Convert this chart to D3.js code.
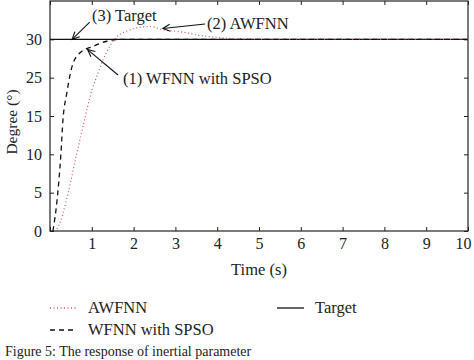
<!DOCTYPE html>
<html><head><meta charset="utf-8">
<script src="https://cdn.jsdelivr.net/npm/d3@7"></script>
<style>
body{margin:0;background:#fff;}
svg{display:block;font-family:"Liberation Serif","DejaVu Serif",serif;}
</style></head>
<body><svg id="c" width="474" height="360"></svg>
<script>
// Data
const xTicks = [0,1,2,3,4,5,6,7,8,9,10];
const yTickValues = [0,6,12,18,24,30];
const yTickLabels = ["0","5","10","15","25","30"];
const awfnnT = [0.1,0.16,0.44,0.64,0.84,1.0,1.12,1.27,1.43,1.6,1.84,2.15,2.4,2.7,3.2,3.6,4.0,4.4,5.2,10];
const awfnnY = [0,0.3,6.1,12.1,17.8,22,24.2,26.8,28.9,30.4,31.3,31.9,32.0,31.5,31.1,30.6,30.3,30.1,30.0,30.0];
const spsoT = [0.07,0.17,0.26,0.31,0.4,0.53,0.72,1.03,1.36,1.67,10];
const spsoY = [0,4.9,12,17.4,21.5,25.8,27.9,28.9,29.7,30,30];
const targetT = [0,10];
const targetY = [30,30];
const legendNames = ["AWFNN","WFNN with SPSO","Target"];

const svg = d3.select("#c");
const x = d3.scaleLinear().domain([0,10]).range([50,468]);
const y = d3.scaleLinear().domain([0,36]).range([231,1]);

// frame
svg.append("rect").attr("x",50).attr("y",1).attr("width",418).attr("height",230)
  .attr("fill","none").attr("stroke","#222").attr("stroke-width",1.2);

const ax = d3.axisBottom(x).tickValues(xTicks).tickSize(-4).tickPadding(7).tickFormat(d=>d===0?"":d);
const gx = svg.append("g").attr("transform","translate(0,231)").call(ax);
const axT = d3.axisTop(x).tickValues(xTicks).tickSize(-4).tickFormat("");
svg.append("g").attr("transform","translate(0,1)").call(axT);
const ay = d3.axisLeft(y).tickValues(yTickValues).tickSize(-4).tickPadding(8).tickFormat((d,i)=>yTickLabels[i]);
svg.append("g").attr("transform","translate(50,0)").call(ay);
const ayR = d3.axisRight(y).tickValues(yTickValues).tickSize(-4).tickFormat("");
svg.append("g").attr("transform","translate(468,0)").call(ayR);
svg.selectAll(".domain").remove();
svg.selectAll(".tick line").attr("stroke","#222");
svg.selectAll(".tick text").attr("font-size",16).attr("fill","#222").attr("font-family","Liberation Serif, serif");
// keep the last x label inside the picture
gx.selectAll(".tick text").filter(d=>d===10).attr("dx",-5);

// axis labels
svg.append("text").attr("x",259).attr("y",275).attr("text-anchor","middle").attr("font-size",16.5).attr("fill","#222").text("Time (s)");
svg.append("text").attr("transform","translate(17,122) rotate(-90)").attr("text-anchor","middle").attr("font-size",15.5).attr("fill","#222").text("Degree (°)");

const line = d3.line().x(d=>x(d[0])).y(d=>y(d[1])).curve(d3.curveMonotoneX);
const zip = (a,b)=>a.map((v,i)=>[v,b[i]]);

svg.append("path").datum(zip(targetT,targetY)).attr("d",line).attr("fill","none").attr("stroke","#111").attr("stroke-width",1.3);
svg.append("path").datum(zip(awfnnT,awfnnY)).attr("d",line).attr("fill","none").attr("stroke","#e0505a").attr("stroke-width",1.2).attr("stroke-dasharray","1,2.5");
svg.append("path").datum(zip(spsoT,spsoY)).attr("d",line).attr("fill","none").attr("stroke","#111").attr("stroke-width",1.3).attr("stroke-dasharray","5,4");

// annotations
function arrow(x1,y1,x2,y2){
  svg.append("line").attr("x1",x1).attr("y1",y1).attr("x2",x2).attr("y2",y2).attr("stroke","#111").attr("stroke-width",1.1);
  const a = Math.atan2(y1-y2,x1-x2), L=8, w=0.45;
  const p = [[x2+L*Math.cos(a+w),y2+L*Math.sin(a+w)],[x2,y2],[x2+L*Math.cos(a-w),y2+L*Math.sin(a-w)]];
  svg.append("path").attr("d",d3.line()(p)).attr("fill","none").attr("stroke","#111").attr("stroke-width",1.1);
}
arrow(x(0.95),y(32.7),x(0.53),y(30));
svg.append("text").attr("x",92).attr("y",21).attr("font-size",16.5).attr("fill","#222").text("(3) Target");
arrow(205,24,x(2.7),y(31.7));
svg.append("text").attr("x",207).attr("y",29).attr("font-size",16.5).attr("fill","#222").text("(2) AWFNN");
arrow(118,75,x(0.9),y(28.4));
svg.append("text").attr("x",123).attr("y",84).attr("font-size",16.5).attr("fill","#222").text("(1) WFNN with SPSO");

// legend
const lg = [
  {n:legendNames[0],x:50,y:308,c:"#e0505a",d:"1,2.5"},
  {n:legendNames[1],x:50,y:330,c:"#111",d:"5,4"},
  {n:legendNames[2],x:277,y:308,c:"#111",d:null}
];
lg.forEach(l=>{
  svg.append("line").attr("x1",l.x).attr("x2",l.x+27).attr("y1",l.y).attr("y2",l.y).attr("stroke",l.c).attr("stroke-width",1.3).attr("stroke-dasharray",l.d);
  svg.append("text").attr("x",l.x+38).attr("y",l.y+5).attr("font-size",16.5).attr("fill","#222").text(l.n);
});

// caption
svg.append("text").attr("x",5).attr("y",356).attr("font-size",14).attr("fill","#222").text("Figure 5: The response of inertial parameter");
</script></body></html>
